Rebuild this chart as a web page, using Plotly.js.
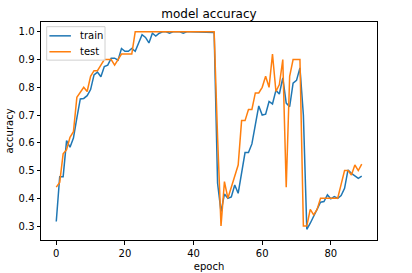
<!DOCTYPE html>
<html>
<head>
<meta charset="utf-8">
<script src="https://cdn.plot.ly/plotly-3.0.1.min.js"></script>
<style>html,body{margin:0;padding:0;background:#fff;} #chart{width:412px;height:273px;}</style>
</head>
<body>
<div id="chart"></div>
<script>
// epochs 0..89
const epochs = Array.from({length: 90}, (_, i) => i);

const trainAcc = [
  0.316, 0.478, 0.478, 0.608, 0.584, 0.617, 0.69, 0.758, 0.76, 0.77,
  0.792, 0.845, 0.855, 0.838, 0.875, 0.88, 0.905, 0.905, 0.898, 0.94,
  0.93, 0.93, 0.94, 0.93, 0.96, 0.99, 0.98, 0.96, 0.995, 0.985,
  0.995, 1.0, 1.0, 0.995, 1.0, 1.0, 1.0, 0.995, 1.0, 1.0,
  1.0, 1.0, 1.0, 1.0, 1.0, 1.0, 0.998, 0.454, 0.352, 0.415,
  0.40, 0.405, 0.448, 0.418, 0.49, 0.565, 0.565, 0.596, 0.665, 0.733,
  0.70, 0.703, 0.749, 0.74, 0.789, 0.776, 0.834, 0.743, 0.73, 0.815,
  0.825, 0.87, 0.70, 0.288, 0.31, 0.334, 0.358, 0.386, 0.388, 0.412,
  0.398, 0.406, 0.40, 0.41, 0.436, 0.502, 0.49, 0.482, 0.472, 0.48
];

const testAcc = [
  0.44, 0.457, 0.56, 0.575, 0.62, 0.64, 0.764, 0.78, 0.80, 0.785,
  0.84, 0.86, 0.86, 0.88, 0.90, 0.90, 0.90, 0.88, 0.90, 0.92,
  0.92, 0.92, 0.92, 1.0, 1.0, 1.0, 1.0, 1.0, 1.0, 1.0,
  1.0, 1.0, 1.0, 1.0, 1.0, 1.0, 1.0, 1.0, 1.0, 1.0,
  1.0, 1.0, 1.0, 1.0, 1.0, 1.0, 1.0, 0.62, 0.30, 0.46,
  0.40, 0.44, 0.48, 0.52, 0.68, 0.68, 0.72, 0.72, 0.78, 0.78,
  0.80, 0.84, 0.80, 0.92, 0.785, 0.81, 0.90, 0.44, 0.84, 0.90,
  0.90, 0.90, 0.30, 0.30, 0.36, 0.34, 0.36, 0.40, 0.40, 0.40,
  0.40, 0.40, 0.40, 0.45, 0.50, 0.50, 0.484, 0.52, 0.50, 0.523
];

const seriesNames = ['train', 'test'];
const seriesColors = ['#1f77b4', '#ff7f0e'];
const xTicks = [0, 20, 40, 60, 80];
const yTicks = [0.3, 0.4, 0.5, 0.6, 0.7, 0.8, 0.9, 1.0];
const yTickLabels = ['0.3', '0.4', '0.5', '0.6', '0.7', '0.8', '0.9', '1.0'];

const font = 'DejaVu Sans, sans-serif';

const traces = [
  {x: epochs, y: trainAcc, name: seriesNames[0], type: 'scatter', mode: 'lines',
   line: {color: seriesColors[0], width: 1.5}},
  {x: epochs, y: testAcc, name: seriesNames[1], type: 'scatter', mode: 'lines',
   line: {color: seriesColors[1], width: 1.5}}
];

// legend box drawn in the matplotlib style (paper coordinates)
const legX0 = 0.017, legX1 = 0.1905, legY0 = 0.825, legY1 = 0.9785;
const legLineX0 = 0.025, legLineX1 = 0.089, legTextX = 0.1092;
const legRowY = [0.9365, 0.8635];

const shapes = [
  {type: 'rect', xref: 'paper', yref: 'paper', x0: legX0, x1: legX1, y0: legY0, y1: legY1,
   line: {color: '#d0d0d0', width: 1}, fillcolor: 'rgba(255,255,255,0.8)', layer: 'above'}
];
const annotations = [];
seriesNames.forEach((n, i) => {
  shapes.push({type: 'line', xref: 'paper', yref: 'paper', x0: legLineX0, x1: legLineX1,
               y0: legRowY[i], y1: legRowY[i], line: {color: seriesColors[i], width: 1.5}, layer: 'above'});
  annotations.push({xref: 'paper', yref: 'paper', x: legTextX, y: legRowY[i], text: n,
                    xanchor: 'left', yanchor: 'middle', showarrow: false,
                    font: {family: font, size: 10, color: '#000'}});
});

const layout = {
  width: 412, height: 273,
  margin: {l: 41, r: 35, t: 22, b: 33, pad: 0},
  paper_bgcolor: '#fff', plot_bgcolor: '#fff',
  font: {family: font, size: 10, color: '#000'},
  title: {text: 'model accuracy', font: {family: font, size: 12, color: '#000'},
          x: 0.5, xref: 'paper', xanchor: 'center', y: 0.951, yref: 'container', yanchor: 'middle'},
  showlegend: false,
  shapes: shapes,
  annotations: annotations,
  xaxis: {
    range: [-4.45, 93.45], tickvals: xTicks, ticks: 'outside', ticklen: 3.5, tickwidth: 1,
    tickcolor: '#000', showline: true, mirror: true, linecolor: '#000', linewidth: 1,
    showgrid: false, zeroline: false, automargin: false,
    tickfont: {family: font, size: 10, color: '#000'},
    title: {text: 'epoch', font: {family: font, size: 10, color: '#000'}, standoff: 5}
  },
  yaxis: {
    range: [0.2495, 1.0356], tickvals: yTicks, ticktext: yTickLabels, ticks: 'outside', ticklen: 3.5, tickwidth: 1,
    tickcolor: '#000', showline: true, mirror: true, linecolor: '#000', linewidth: 1,
    showgrid: false, zeroline: false, automargin: false,
    tickfont: {family: font, size: 10, color: '#000'},
    title: {text: 'accuracy', font: {family: font, size: 10, color: '#000'}, standoff: 3}
  }
};

Plotly.newPlot('chart', traces, layout, {displayModeBar: false, staticPlot: true});
</script>
</body>
</html>
